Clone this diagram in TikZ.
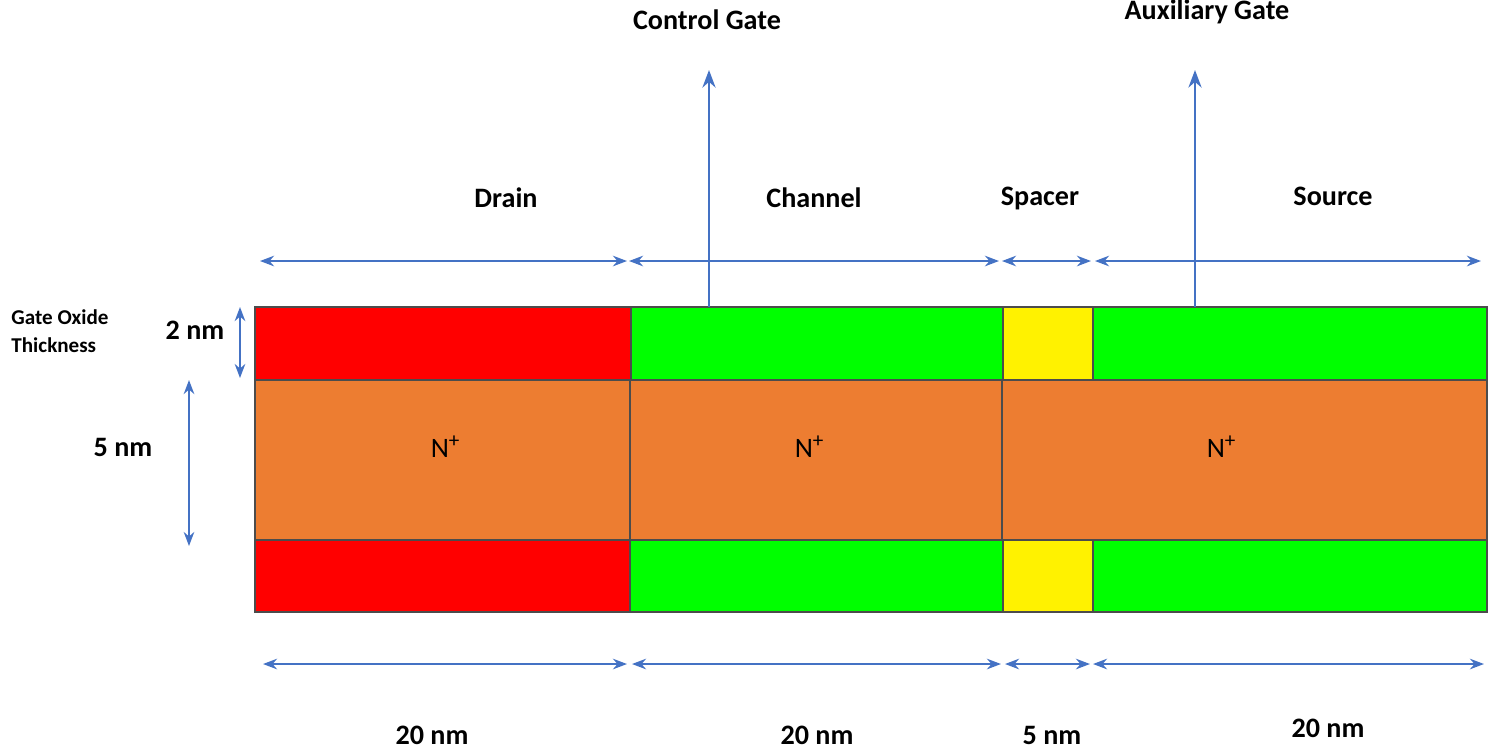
\documentclass[tikz,border=0pt]{standalone}
\usepackage{fontspec}
\setmainfont{Carlito}
\usetikzlibrary{arrows.meta}
\definecolor{arr}{HTML}{4472C4}
\definecolor{orng}{HTML}{ED7D31}
\definecolor{grn}{HTML}{00FF00}
\tikzset{
 blk/.style={draw=black!70, line width=0.5pt},
 dim/.style={arr, line width=0.6pt, {Stealth[length=4pt]}-{Stealth[length=4pt]}},
 up/.style={arr, line width=0.6pt, -{Stealth[length=5pt]}},
 lab/.style={font=\fontsize{8}{10}\selectfont\bfseries},
 nlab/.style={font=\fontsize{8}{10}\selectfont},
}
\begin{document}
\begin{tikzpicture}[x=0.01cm,y=-0.01cm]
\useasboundingbox (0,0) rectangle (1496,750);
% top row
\fill[red,blk] (255,307) rectangle (631,380);
\fill[grn,blk] (631,307) rectangle (1003,380);
\fill[yellow,blk] (1003,307) rectangle (1093,380);
\fill[grn,blk] (1093,307) rectangle (1487,380);
% bottom row
\fill[red,blk] (255,540) rectangle (630,612);
\fill[grn,blk] (630,540) rectangle (1003,612);
\fill[yellow,blk] (1003,540) rectangle (1093,612);
\fill[grn,blk] (1093,540) rectangle (1487,612);
% middle
\fill[orng,blk] (255,380) rectangle (630,540);
\fill[orng,blk] (630,380) rectangle (1002,540);
\fill[orng,blk] (1002,380) rectangle (1487,540);
\node[nlab] (n1) at (446,447) {N\textsuperscript{+}};
\node[nlab] (n2) at (810,447) {N\textsuperscript{+}};
\node[nlab] (n3) at (1222,447) {N\textsuperscript{+}};
% top dims
\coordinate (t0) at (260,261); \coordinate (t1) at (627,261);
\coordinate (t2) at (629,261); \coordinate (t3) at (999,261);
\coordinate (t4) at (1002,261); \coordinate (t5) at (1091,261);
\coordinate (t6) at (1095,261); \coordinate (t7) at (1481,261);
\draw[dim] (t0)--(t1); \draw[dim] (t2)--(t3); \draw[dim] (t4)--(t5); \draw[dim] (t6)--(t7);
\coordinate (b0) at (263,664); \coordinate (b1) at (627,664);
\coordinate (b2) at (632,664); \coordinate (b3) at (1001,664);
\coordinate (b4) at (1005,664); \coordinate (b5) at (1090,664);
\coordinate (b6) at (1093,664); \coordinate (b7) at (1484,664);
\draw[dim] (b0)--(b1); \draw[dim] (b2)--(b3); \draw[dim] (b4)--(b5); \draw[dim] (b6)--(b7);
% gate lines
\coordinate (g1a) at (709,307); \coordinate (g1b) at (709,70);
\coordinate (g2a) at (1195,307); \coordinate (g2b) at (1195,70);
\draw[up] (g1a)--(g1b); \draw[up] (g2a)--(g2b);
% vertical dims
\coordinate (v1a) at (240,307); \coordinate (v1b) at (240,378);
\coordinate (v2a) at (189,380); \coordinate (v2b) at (189,546);
\draw[dim] (v1a)--(v1b); \draw[dim] (v2a)--(v2b);
% labels
\node[lab] (cg) at (707,20) {Control Gate};
\node[lab] (ag) at (1207,12) {Auxiliary Gate};
\node[lab] (dr) at (506,198) {Drain};
\node[lab] (ch) at (814,198) {Channel};
\node[lab] (sp) at (1040,198) {Spacer};
\node[lab] (so) at (1333,196) {Source};
\node[lab] (l2) at (195,330) {2 nm};
\node[lab] (l5) at (123,447) {5 nm};
\node[font=\fontsize{6}{8}\selectfont\bfseries, align=left] (go) at (60,331) {Gate Oxide\\Thickness};
\node[lab] (d1) at (432,735) {20 nm};
\node[lab] (d2) at (817,735) {20 nm};
\node[lab] (d3) at (1052,735) {5 nm};
\node[lab] (d4) at (1328,728) {20 nm};
\end{tikzpicture}
\end{document}
